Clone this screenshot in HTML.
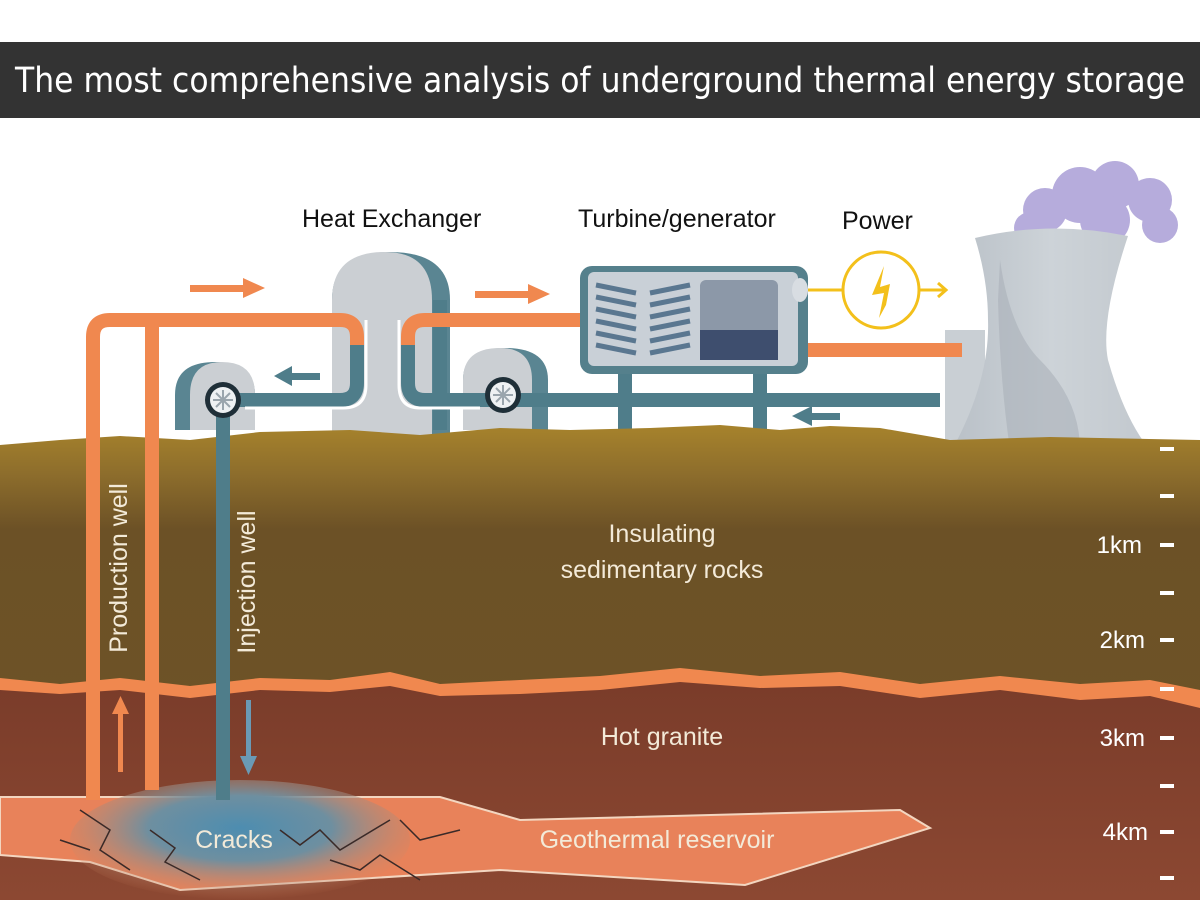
<!DOCTYPE html>
<html><head><meta charset="utf-8"><style>
html,body{margin:0;padding:0;background:#fff;}
svg{display:block;}
</style></head><body>
<svg width="1200" height="900" viewBox="0 0 1200 900" xmlns="http://www.w3.org/2000/svg" font-family="Liberation Sans, sans-serif">
<defs>
<linearGradient id="sed" x1="0" y1="0" x2="0" y2="1">
<stop offset="0" stop-color="#a7832c"/><stop offset="0.1" stop-color="#8e6e2c"/><stop offset="0.22" stop-color="#6c5126"/><stop offset="1" stop-color="#6f5528"/>
</linearGradient>
<linearGradient id="gran" x1="0" y1="0" x2="0" y2="1">
<stop offset="0" stop-color="#7a3c2a"/><stop offset="1" stop-color="#8c4832"/>
</linearGradient>
<radialGradient id="blue" cx="0.5" cy="0.4" r="0.6">
<stop offset="0" stop-color="#4d8db0"/><stop offset="0.45" stop-color="#6e8fa0"/><stop offset="1" stop-color="#d9875e" stop-opacity="0"/>
</radialGradient>
<linearGradient id="tower" x1="0" y1="0" x2="1" y2="0">
<stop offset="0" stop-color="#b9c0c7"/><stop offset="0.5" stop-color="#cdd3d8"/><stop offset="1" stop-color="#c2c8ce"/>
</linearGradient>
</defs>
<rect width="1200" height="900" fill="#fff"/>
<rect x="0" y="42" width="1200" height="76" fill="#333"/>
<text x="600" y="92" fill="#fff" font-size="35" text-anchor="middle" font-family="DejaVu Sans, sans-serif" textLength="1170" lengthAdjust="spacingAndGlyphs">The most comprehensive analysis of underground thermal energy storage</text>

<g fill="#b6acdc">
<circle cx="1045" cy="210" r="22"/><circle cx="1080" cy="195" r="28"/><circle cx="1115" cy="185" r="24"/><circle cx="1150" cy="200" r="22"/><circle cx="1105" cy="220" r="25"/><circle cx="1030" cy="228" r="16"/><circle cx="1160" cy="225" r="18"/>
</g>
<rect x="945" y="330" width="40" height="115" fill="#c9cfd4"/>
<path d="M975 238 Q1050 220 1128 236 Q1100 320 1108 360 Q1125 420 1150 450 L952 450 Q990 380 988 320 Q988 280 975 238Z" fill="url(#tower)"/>
<path d="M1000 260 Q1010 330 1040 360 Q1080 400 1080 450 L1010 450 Q1000 380 998 300Z" fill="#aab1b9" opacity="0.6"/>

<path d="M332 435 L332 300 Q332 252 390 252 Q450 252 450 300 L450 435Z" fill="#5a8592"/>
<path d="M332 435 L332 300 Q332 252 385 252 Q432 252 432 300 L432 435Z" fill="#cbcfd3"/>
<path d="M175 430 L175 395 Q175 362 215 362 Q255 362 255 395 L255 430Z" fill="#5a8592"/>
<path d="M190 430 L190 395 Q190 362 222 362 Q255 362 255 395 L255 430Z" fill="#cbcfd3"/>
<path d="M463 430 L463 380 Q463 348 505 348 Q548 348 548 380 L548 430Z" fill="#5a8592"/>
<path d="M463 430 L463 380 Q463 348 500 348 Q532 348 532 380 L532 430Z" fill="#cbcfd3"/>

<g stroke="#4f7d8a" stroke-width="14" fill="none">
<path d="M223 800 L223 400 L340 400 Q357 400 357 383 L357 345"/>
<path d="M408 345 L408 383 Q408 400 425 400 L940 400"/>
<path d="M440 300 L440 430"/>
<path d="M625 370 L625 440 M760 370 L760 440"/>
</g>
<g stroke="#fff" stroke-width="3" fill="none">
<path d="M366 320 L366 385 Q366 408 343 408 L245 408"/>
<path d="M399 320 L399 385 Q399 408 420 408 L480 408"/>
</g>
<g stroke="#f0884f" stroke-width="14" fill="none">
<path d="M93 800 L93 337 Q93 320 110 320 L340 320 Q357 320 357 337 L357 345"/>
<path d="M152 790 L152 320"/>
<path d="M408 345 L408 337 Q408 320 425 320 L590 320"/>
<path d="M795 350 L962 350"/>
</g>
<circle cx="223" cy="400" r="18" fill="#1f2f38"/><circle cx="223" cy="400" r="13" fill="#eef1f3"/>
<circle cx="503" cy="395" r="18" fill="#1f2f38"/><circle cx="503" cy="395" r="13" fill="#eef1f3"/>
<g stroke="#9aa5ad" stroke-width="2"><path d="M213 400h20M223 390v20M216 393l14 14M230 393l-14 14"/><path d="M493 395h20M503 385v20M496 388l14 14M510 388l-14 14"/></g>

<rect x="580" y="266" width="228" height="108" rx="12" fill="#55808c"/>
<rect x="588" y="272" width="210" height="94" rx="6" fill="#c9d0d7"/>
<rect x="700" y="280" width="78" height="80" rx="6" fill="#8c98a8"/>
<rect x="700" y="330" width="78" height="30" fill="#3e4e6e"/>
<g stroke="#5a7790" stroke-width="5">
<path d="M596 285l40 8M596 297l40 8M596 309l40 8M596 321l40 8M596 333l40 8M596 345l40 8"/>
<path d="M690 285l-40 8M690 297l-40 8M690 309l-40 8M690 321l-40 8M690 333l-40 8M690 345l-40 8"/>
</g>
<ellipse cx="800" cy="290" rx="8" ry="12" fill="#d8dde2"/>
<path d="M808 290 L842 290 M920 290 L945 290 M938 283 L946 290 L938 297" stroke="#f3c01b" stroke-width="3" fill="none"/>
<circle cx="881" cy="290" r="38" fill="#fff" stroke="#f3c01b" stroke-width="3"/>
<path d="M884 266 L872 295 L884 293 L879 318 L886 305 L890 284 L880 287Z" fill="#f3c01b"/>

<g fill="#f0884f"><rect x="190" y="285" width="55" height="7"/><path d="M243 278 L265 288 L243 298Z"/>
<rect x="475" y="291" width="55" height="7"/><path d="M528 284 L550 294 L528 304Z"/></g>
<g fill="#4f7d8a"><rect x="290" y="373" width="30" height="7"/><path d="M292 366 L274 376 L292 386Z"/>
<rect x="810" y="413" width="30" height="7"/><path d="M812 406 L792 416 L812 426Z"/></g>

<path d="M0 445 L60 440 L120 436 L190 440 L260 432 L350 430 L420 435 L500 428 L570 430 L650 428 L720 425 L780 430 L830 426 L880 428 L950 440 L1050 437 L1200 440 L1200 900 L0 900Z" fill="url(#sed)"/>
<path d="M0 678 L60 684 L120 678 L190 686 L260 678 L330 680 L390 672 L440 684 L520 680 L600 676 L680 668 L760 676 L840 672 L920 684 L1000 676 L1080 684 L1150 680 L1200 690 L1200 900 L0 900Z" fill="#f0884f"/>
<path d="M0 690 L60 694 L120 690 L190 698 L260 690 L330 692 L390 686 L440 696 L520 694 L600 690 L680 682 L760 688 L840 686 L920 698 L1000 690 L1080 700 L1150 696 L1200 708 L1200 900 L0 900Z" fill="url(#gran)"/>
<path d="M0 797 L440 797 L520 820 L900 810 L930 828 L745 885 L500 870 L180 890 L90 862 L0 855Z" fill="#e8825a" stroke="#f3d6c0" stroke-width="2"/>
<ellipse cx="240" cy="840" rx="170" ry="60" fill="url(#blue)"/>
<g stroke="#3a2a28" stroke-width="1.5" fill="none">
<path d="M80 810 L110 830 L100 850 L130 870"/><path d="M150 830 L175 848 L165 862 L200 880"/><path d="M280 830 L300 845 L320 830 L340 850 L390 820"/><path d="M330 860 L360 870 L380 855 L420 880"/><path d="M400 820 L420 840 L460 830"/><path d="M60 840 L90 850"/>
</g>
<g stroke-width="14"><path d="M93 435 L93 800 M152 435 L152 790" stroke="#f0884f"/><path d="M223 430 L223 800" stroke="#4f7d8a"/></g>
<g fill="#f0884f"><rect x="118" y="712" width="5" height="60"/><path d="M112 714 L120.5 696 L129 714Z"/></g>
<g fill="#6a9ab5"><rect x="246" y="700" width="5" height="58"/><path d="M240 756 L248.5 775 L257 756Z"/></g>

<g fill="#fff"><rect x="1160" y="447" width="14" height="4"/><rect x="1160" y="494" width="14" height="4"/><rect x="1160" y="543" width="14" height="4"/><rect x="1160" y="591" width="14" height="4"/><rect x="1160" y="638" width="14" height="4"/><rect x="1160" y="687" width="14" height="4"/><rect x="1160" y="736" width="14" height="4"/><rect x="1160" y="784" width="14" height="4"/><rect x="1160" y="830" width="14" height="4"/><rect x="1160" y="876" width="14" height="4"/></g>
<g fill="#fff" font-size="24" text-anchor="end"><text x="1142" y="553">1km</text><text x="1145" y="648">2km</text><text x="1145" y="746">3km</text><text x="1148" y="840">4km</text></g>

<g fill="#111" font-size="25"><text x="302" y="227">Heat Exchanger</text><text x="578" y="227">Turbine/generator</text><text x="842" y="229">Power</text></g>
<g fill="#f3ead8" font-size="25" text-anchor="middle">
<text x="662" y="542">Insulating</text><text x="662" y="578">sedimentary rocks</text>
<text x="662" y="745">Hot granite</text>
<text x="234" y="848">Cracks</text><text x="657" y="848">Geothermal reservoir</text>
<text transform="translate(127,568) rotate(-90)">Production well</text>
<text transform="translate(255,582) rotate(-90)">Injection well</text>
</g>
</svg>
</body></html>
